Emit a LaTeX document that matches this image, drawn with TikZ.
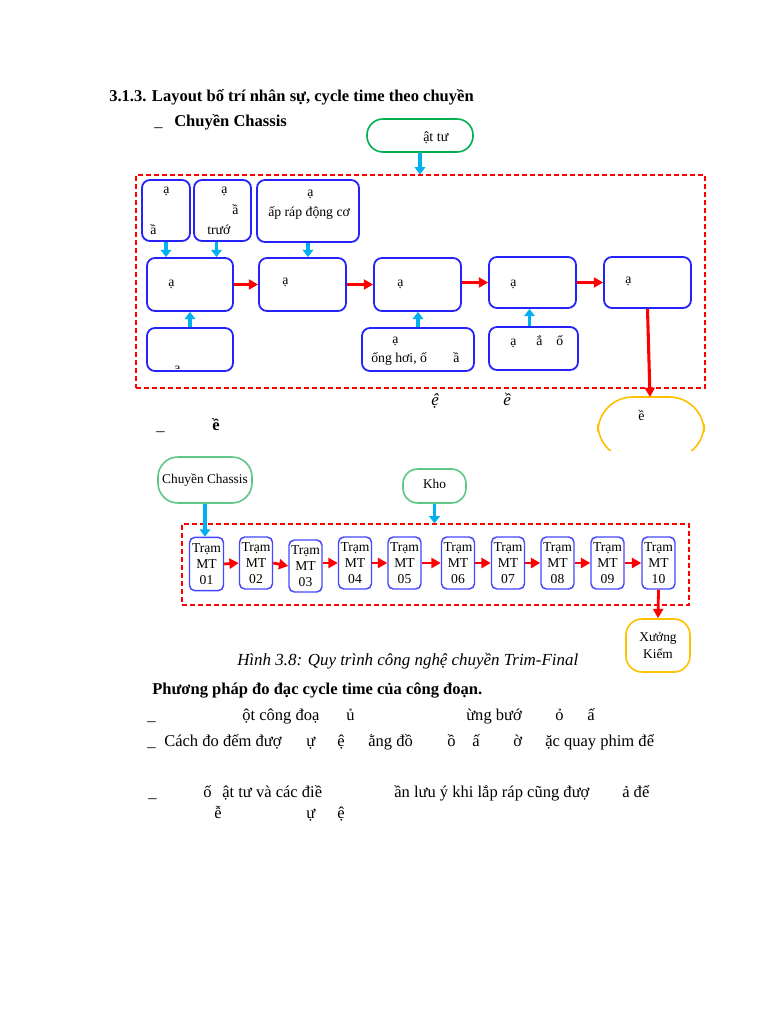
\documentclass[tikz,border=0pt]{standalone}
\usepackage{fontspec}
\setmainfont{Liberation Serif}
\usetikzlibrary{arrows.meta,calc,fit}
\definecolor{boxblue}{RGB}{35,35,250}
\definecolor{stblue}{RGB}{70,70,255}
\definecolor{arrblue}{RGB}{0,176,240}
\definecolor{redc}{RGB}{255,0,0}
\definecolor{greenA}{RGB}{0,176,80}
\definecolor{greenB}{RGB}{95,200,135}
\definecolor{orangeC}{RGB}{255,192,0}
\begin{document}
\begin{tikzpicture}[x=0.75pt,y=-0.75pt,
  txt/.style={inner sep=0pt, anchor=base west, font=\fontsize{12.4}{14}\selectfont},
  btxt/.style={inner sep=0pt, anchor=base west, font=\fontsize{12.4}{14}\selectfont\bfseries},
  itxt/.style={inner sep=0pt, anchor=base west, font=\fontsize{12.7}{14}\selectfont\itshape},
  dtxt/.style={inner sep=0pt, anchor=base west, font=\fontsize{10.3}{12}\selectfont},
  ctxt/.style={inner sep=0pt, anchor=base, font=\fontsize{10}{12}\selectfont},
  boxone/.style={draw=boxblue, line width=1.35pt, rounded corners=6pt, inner sep=0pt},
  stbox/.style={draw=stblue, line width=1.1pt, rounded corners=4pt, inner sep=0pt,
    minimum width=24.75pt, minimum height=39pt, align=center,
    font=\fontsize{10.2}{12}\selectfont},
  pillA/.style={draw=greenA, line width=1.2pt, rounded corners=12pt, inner sep=0pt},
  pillB/.style={draw=greenB, line width=1.2pt, inner sep=0pt},
  dashbox/.style={draw=redc, line width=0.9pt, dash pattern=on 3.5pt off 2.5pt, inner sep=0pt},
  bluearr/.style={draw=arrblue, line width=2.3pt, -{Triangle[length=5.5pt,width=8pt]}},
  redarr/.style={draw=redc, line width=2.3pt, -{Triangle[length=7pt,width=7.5pt]}},
]
\useasboundingbox (0,0) rectangle (768,1024);
\fill[white] (0,0) rectangle (768,1024);

% ---- heading texts
\node[btxt] (h1) at (109,101) {3.1.3. Layout bố trí nhân sự, cycle time theo chuyền};
\node[txt] (d1) at (154,126) {\_};
\node[btxt] (h2) at (174,126) {Chuyền Chassis};

% ---- diagram 1
\node[pillA, fit={(367,119) (473,152)}] (VT) {};
\node[dtxt, font=\fontsize{10.5}{12}\selectfont] (VTt) at (423,141) {ật tư};
\node[dashbox, fit={(136,175) (705,388)}] (D1) {};

\node[boxone, fit={(142,180) (190,241)}] (A) {};
\node[boxone, fit={(194,180) (251,241)}] (B) {};
\node[boxone, fit={(257,180) (359,242)}] (C) {};
\node[dtxt] (At1) at (163,193) {ạ};
\node[dtxt] (At2) at (150,234) {ầ};
\node[dtxt] (Bt1) at (221,193) {ạ};
\node[dtxt] (Bt2) at (232,214) {ầ};
\node[dtxt] (Bt3) at (207,234) {trướ};
\node[dtxt] (Ct1) at (307,196) {ạ};
\node[dtxt] (Ct2) at (268,216) {ấp ráp động cơ};

\node[boxone, fit={(147,258) (233,311)}] (B1) {};
\node[boxone, fit={(259,258) (346,311)}] (B2) {};
\node[boxone, fit={(374,258) (461,311)}] (B3) {};
\node[boxone, fit={(489,257) (576,308)}] (B4) {};
\node[boxone, fit={(604,257) (691,308)}] (B5) {};
\node[dtxt] (B1t) at (168,286) {ạ};
\node[dtxt] (B2t) at (282,284) {ạ};
\node[dtxt] (B3t) at (397,286) {ạ};
\node[dtxt] (B4t) at (510,286) {ạ};
\node[dtxt] (B5t) at (625,283) {ạ};

\node[boxone, fit={(147,328) (233,371)}] (C1) {};
\node[boxone, fit={(362,328) (474,371)}] (C3) {};
\node[boxone, fit={(489,327) (578,370)}] (C4) {};
\begin{scope}
\clip (150,330) rectangle (230,368);
\node[dtxt] (C1t) at (174,372) {ạ};
\end{scope}
\node[dtxt] (C3t1) at (392,343) {ạ};
\node[dtxt] (C3t2) at (371,362) {ống hơi, ố};
\node[dtxt] (C3t3) at (453,362) {ầ};
\node[dtxt] (C4t1) at (510,345) {ạ};
\node[dtxt] (C4t2) at (536,345) {ắ};
\node[dtxt] (C4t3) at (556,345) {ổ};

% blue arrows diagram 1
\draw[bluearr] (VT.south) -- (VT.south |- D1.north);
\draw[bluearr] (A.south) -- (A.south |- B1.north);
\draw[bluearr] ($(B.south)+(-6,0)$) -- ($(B.south |- B1.north)+(-6,0)$);
\draw[bluearr] (C.south) -- (C.south |- B2.north);
\draw[bluearr] (C1.north) -- (C1.north |- B1.south);
\draw[bluearr] (C3.north) -- (C3.north |- B3.south);
\draw[bluearr] ($(C4.north)+(-4,0)$) -- ($(C4.north |- B4.south)+(-4,0)$);
% red arrows diagram 1
\draw[redarr] (B1.east) -- (B2.west);
\draw[redarr] (B2.east) -- (B3.west);
\draw[redarr] (B3.east |- B4.west) -- (B4.west);
\draw[redarr] (B4.east) -- (B5.west);

% orange open shape
\coordinate (OT) at (650,397);
\begin{scope}
\clip (590,390) rectangle (712,450);
\draw[orangeC, line width=1.2pt, rounded corners=26pt] (598,397) rectangle (704,459);
\end{scope}
\node[dtxt, font=\fontsize{10.5}{12}\selectfont] (OTt) at (638,420) {ề};
\draw[redarr] (B5.south) -- (OT);

% caption fragments
\node[itxt] (cap1a) at (431,405) {ệ};
\node[itxt] (cap1b) at (503,405) {ề};

\node[txt] (d2) at (156,430) {\_};
\node[btxt] (h3) at (212,430) {ề};

% ---- diagram 2
\node[pillB, rounded corners=15pt, fit={(158,457) (252,503)}] (CC) {};
\node[ctxt] (CCt) at (205,483) {Chuyền Chassis};
\node[pillB, rounded corners=11pt, fit={(403,469) (466,503)}] (Kho) {};
\node[ctxt] (Khot) at (434.5,488) {Kho};
\node[dashbox, fit={(182,524) (689,605)}] (D2) {};

\node[stbox, minimum width=25.5pt, minimum height=40pt] (S1) at (206.5,564) {Trạm\\MT\\01};
\node[stbox] (S2) at (256,563) {Trạm\\MT\\02};
\node[stbox] (S3) at (305.5,566) {Trạm\\MT\\03};
\node[stbox] (S4) at (355,563) {Trạm\\MT\\04};
\node[stbox] (S5) at (404.5,563) {Trạm\\MT\\05};
\node[stbox] (S6) at (458,563) {Trạm\\MT\\06};
\node[stbox] (S7) at (508,563) {Trạm\\MT\\07};
\node[stbox] (S8) at (557.5,563) {Trạm\\MT\\08};
\node[stbox] (S9) at (607.5,563) {Trạm\\MT\\09};
\node[stbox] (S10) at (658.5,563) {Trạm\\MT\\10};

\draw[bluearr] (CC.south) -- (CC.south |- S1.north);
\draw[bluearr] (Kho.south) -- (Kho.south |- D2.north);
\foreach \a/\b in {S1/S2,S2/S3,S4/S5,S5/S6,S6/S7,S7/S8,S8/S9,S9/S10}
  \draw[redarr, line width=2.1pt] (\a.east) -- (\b.west);
\draw[redarr, line width=2.1pt] (S3.east |- S4.west) -- (S4.west);

\node[draw=orangeC, line width=1.2pt, rounded corners=12pt, minimum width=48pt,
  minimum height=39.75pt, inner sep=0pt, align=center,
  font=\fontsize{10}{12.75}\selectfont] (XK) at (658,645.5) {Xưởng\\Kiểm};
\draw[redarr, line width=2.1pt] (S10.south) -- (XK.north);

\node[itxt] (cap2) at (237,665) {Hình 3.8: Quy trình công nghệ chuyền Trim-Final};

% ---- lower text
\node[btxt] (h4) at (152,694) {Phương pháp đo đạc cycle time của công đoạn.};

\node[txt] (l1a) at (147,720) {\_};
\node[txt] (l1b) at (242,720) {ột công đoạ};
\node[txt] (l1c) at (346,720) {ủ};
\node[txt] (l1d) at (466,720) {ừng bướ};
\node[txt] (l1e) at (555,720) {ỏ};
\node[txt] (l1f) at (587,720) {ấ};

\node[txt] (l2a) at (147,746) {\_};
\node[txt] (l2b) at (164,746) {Cách đo đếm đượ};
\node[txt] (l2c) at (306,746) {ự};
\node[txt] (l2d) at (337,746) {ệ};
\node[txt] (l2e) at (368,746) {ằng đồ};
\node[txt] (l2f) at (447,746) {ồ};
\node[txt] (l2g) at (472,746) {ấ};
\node[txt] (l2h) at (513,746) {ờ};
\node[txt] (l2i) at (545,746) {ặc quay phim để};

\node[txt] (l3a) at (148,797) {\_};
\node[txt] (l3b) at (203,797) {ố};
\node[txt] (l3c) at (222,797) {ật tư và các điề};
\node[txt] (l3d) at (394,797) {ần lưu ý khi lắp ráp cũng đượ};
\node[txt] (l3e) at (622,797) {ả để};

\node[txt] (l4a) at (214,818) {ễ};
\node[txt] (l4b) at (306,818) {ự};
\node[txt] (l4c) at (337,818) {ệ};
\end{tikzpicture}
\end{document}
